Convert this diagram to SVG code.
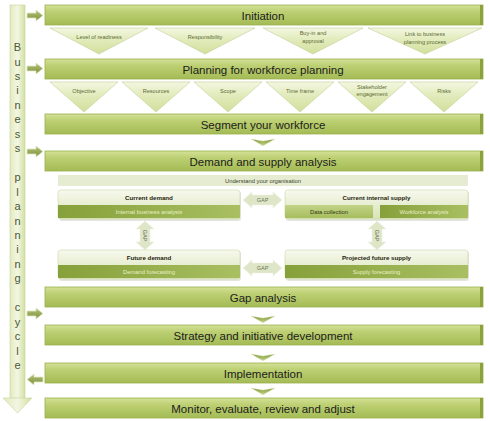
<svg xmlns="http://www.w3.org/2000/svg" width="490" height="421" viewBox="0 0 490 421">
<defs>
<linearGradient id="gBar" x1="0" y1="0" x2="0" y2="1">
<stop offset="0" stop-color="#d3e196"/>
<stop offset="0.35" stop-color="#bccf72"/>
<stop offset="1" stop-color="#a4bb55"/>
</linearGradient>
<linearGradient id="gChev" x1="0" y1="0" x2="0" y2="1">
<stop offset="0" stop-color="#f3f7e2"/>
<stop offset="0.4" stop-color="#e3ecbf"/>
<stop offset="1" stop-color="#d2df9a"/>
</linearGradient>
<linearGradient id="gBig" x1="0" y1="0" x2="1" y2="0">
<stop offset="0" stop-color="#e2eabf"/>
<stop offset="0.5" stop-color="#f2f6e2"/>
<stop offset="1" stop-color="#d3df9f"/>
</linearGradient>
<linearGradient id="gHead" x1="0" y1="0" x2="0" y2="1">
<stop offset="0" stop-color="#f7f9ee"/>
<stop offset="1" stop-color="#d9e3b6"/>
</linearGradient>
<linearGradient id="gBand" x1="0" y1="0" x2="1" y2="0">
<stop offset="0" stop-color="#86a03a"/>
<stop offset="1" stop-color="#a9bf62"/>
</linearGradient>
<linearGradient id="gBandL" x1="0" y1="0" x2="0" y2="1">
<stop offset="0" stop-color="#c2d487"/>
<stop offset="1" stop-color="#a7bd5e"/>
</linearGradient>
<linearGradient id="gDown" x1="0" y1="0" x2="0" y2="1">
<stop offset="0" stop-color="#7f9638"/>
<stop offset="1" stop-color="#c9d98c"/>
</linearGradient>
<linearGradient id="gSide" x1="0" y1="0" x2="0" y2="1">
<stop offset="0" stop-color="#b4c47a"/>
<stop offset="1" stop-color="#7c8f3c"/>
</linearGradient>
</defs>
<style>
.bar{fill:url(#gBar);stroke:#9bb04e;stroke-width:0.8}
.edge{fill:#8aa13e}
.bt{font-family:"Liberation Sans",Arial,sans-serif;font-size:11.5px;fill:#1c1c1c;text-anchor:middle}
.chev{fill:url(#gChev);stroke:#c3cf96;stroke-width:0.6}
.ct{font-family:"Liberation Sans",Arial,sans-serif;font-size:5.6px;fill:#5c6a34;text-anchor:middle}
.vt{font-family:"Liberation Sans",Arial,sans-serif;font-size:11px;fill:#4b5635;text-anchor:middle}
.side{fill:url(#gSide);stroke:#dfe8c2;stroke-width:0.8}
.down{fill:url(#gDown);stroke:#e6eecc;stroke-width:0.5}
.gap{fill:#dfe6c8;stroke:#eef2e0;stroke-width:0.5}
.gt{font-family:"Liberation Sans",Arial,sans-serif;font-size:5.5px;fill:#6b7357;text-anchor:middle}
.head{fill:url(#gHead);stroke:#cbd6a8;stroke-width:0.6}
.ht{font-family:"Liberation Sans",Arial,sans-serif;font-size:6.2px;font-weight:bold;fill:#1f2410;text-anchor:middle}
.band{fill:url(#gBand)}
.bandl{fill:url(#gBandL)}
.lt{font-family:"Liberation Sans",Arial,sans-serif;font-size:5.8px;fill:#e9f0c6;text-anchor:middle}
.dt{font-family:"Liberation Sans",Arial,sans-serif;font-size:5.8px;fill:#2d3812;text-anchor:middle}
.shadow{fill:#c9ccc0;opacity:0.5}
</style>
<rect x="0" y="0" width="490" height="421" fill="#ffffff"/>

<g id="cycle">
<rect x="10" y="5" width="15" height="394" fill="url(#gBig)" stroke="#c6d39b" stroke-width="0.6"/>
<polygon points="3,398 32,398 17.5,413" fill="url(#gBig)" stroke="#c6d39b" stroke-width="0.6"/>
<text class="vt" x="17.5" y="51">B</text>
<text class="vt" x="17.5" y="65.5">u</text>
<text class="vt" x="17.5" y="80">s</text>
<text class="vt" x="17.5" y="94">i</text>
<text class="vt" x="17.5" y="109">n</text>
<text class="vt" x="17.5" y="123">e</text>
<text class="vt" x="17.5" y="138">s</text>
<text class="vt" x="17.5" y="152">s</text>
<text class="vt" x="17.5" y="181">p</text>
<text class="vt" x="17.5" y="196">l</text>
<text class="vt" x="17.5" y="210">a</text>
<text class="vt" x="17.5" y="225">n</text>
<text class="vt" x="17.5" y="239">n</text>
<text class="vt" x="17.5" y="253">i</text>
<text class="vt" x="17.5" y="268">n</text>
<text class="vt" x="17.5" y="282">g</text>
<text class="vt" x="17.5" y="311">c</text>
<text class="vt" x="17.5" y="326">y</text>
<text class="vt" x="17.5" y="340">c</text>
<text class="vt" x="17.5" y="355">l</text>
<text class="vt" x="17.5" y="369">e</text>
</g>

<g id="connectors">
<polygon class="side" points="27,13 36,13 36,10 43,15.5 36,21 36,18 27,18"/>
<polygon class="side" points="27,66 36,66 36,63 43,68.5 36,74 36,71 27,71"/>
<polygon class="side" points="27,149 36,149 36,146 43,151.5 36,157 36,154 27,154"/>
<polygon class="side" points="27,311 36,311 36,308 43,313.5 36,319 36,316 27,316"/>
<polygon class="side" points="43,377 34,377 34,374 27,379.5 34,385 34,382 43,382"/>
<polygon class="down" points="251,139 263,141 275,139 263,146"/>
<polygon class="down" points="251,316 263,318 275,316 263,323"/>
<polygon class="down" points="251,354 263,356 275,354 263,361"/>
<polygon class="down" points="251,388 263,390 275,388 263,395"/>
<g id="gap-top">
<polygon class="gap" points="243,200 252,192 252,195 273,195 273,192 282,200 273,208 273,205 252,205 252,208"/>
<text class="gt" x="262.5" y="202">GAP</text>
</g>
<g id="gap-bottom">
<polygon class="gap" points="243,268 252,260 252,263 273,263 273,260 282,268 273,276 273,273 252,273 252,276"/>
<text class="gt" x="262.5" y="270">GAP</text>
</g>
<g id="gap-left">
<polygon class="gap" points="145,221 154,229 150,229 150,242 154,242 145,250 136,242 140,242 140,229 136,229"/>
<text class="gt" transform="translate(143,235.5) rotate(90)" x="0" y="0">GAP</text>
</g>
<g id="gap-right">
<polygon class="gap" points="377,221 386,229 382,229 382,242 386,242 377,250 368,242 372,242 372,229 368,229"/>
<text class="gt" transform="translate(375,235.5) rotate(90)" x="0" y="0">GAP</text>
</g>
</g>

<g id="initiation">
<rect class="bar" x="45" y="5" width="438" height="20"/>
<rect class="edge" x="480" y="5" width="3" height="20"/>
<text class="bt" x="263" y="19.5">Initiation</text>
</g>
<g id="initiation-items">
<polygon class="chev" points="50,28 148,28 99,54"/>
<text class="ct" x="99" y="39">Level of readiness</text>
<polygon class="chev" points="155,28 255,28 205,54"/>
<text class="ct" x="205" y="39">Responsibility</text>
<polygon class="chev" points="263,28 363,28 313,54"/>
<text class="ct" x="313" y="35">Buy-in and</text>
<text class="ct" x="313" y="43">approval</text>
<polygon class="chev" points="368,28 482,28 425,54"/>
<text class="ct" x="425" y="36">Link to business</text>
<text class="ct" x="425" y="44">planning process</text>
</g>

<g id="planning">
<rect class="bar" x="45" y="59" width="438" height="20"/>
<rect class="edge" x="480" y="59" width="3" height="20"/>
<text class="bt" x="263" y="73.5">Planning for workforce planning</text>
</g>
<g id="planning-items">
<polygon class="chev" points="50,82 118,82 84,112"/>
<text class="ct" x="84" y="93">Objective</text>
<polygon class="chev" points="122,82 190,82 156,112"/>
<text class="ct" x="156" y="93">Resources</text>
<polygon class="chev" points="194,82 262,82 228,112"/>
<text class="ct" x="228" y="93">Scope</text>
<polygon class="chev" points="266,82 334,82 300,112"/>
<text class="ct" x="300" y="93">Time frame</text>
<polygon class="chev" points="338,82 406,82 372,112"/>
<text class="ct" x="372" y="89">Stakeholder</text>
<text class="ct" x="372" y="96">engagement</text>
<polygon class="chev" points="410,82 478,82 444,112"/>
<text class="ct" x="444" y="93">Risks</text>
</g>

<g id="segment">
<rect class="bar" x="45" y="114" width="438" height="20"/>
<rect class="edge" x="480" y="114" width="3" height="20"/>
<text class="bt" x="263" y="128.5">Segment your workforce</text>
</g>

<g id="demand-supply">
<rect class="bar" x="45" y="151" width="438" height="20"/>
<rect class="edge" x="480" y="151" width="3" height="20"/>
<text class="bt" x="263" y="165.5">Demand and supply analysis</text>
</g>

<g id="understand">
<rect x="58" y="175" width="410" height="11" fill="#e6ecd2"/>
<text class="dt" x="263" y="182.5" style="fill:#3a3f2c">Understand your organisation</text>
</g>

<g id="current-demand">
<rect class="shadow" x="59" y="191" width="182" height="30" rx="3"/>
<rect class="head" x="58" y="190" width="182" height="29" rx="3"/>
<rect class="band" x="58" y="205" width="182" height="13"/>
<text class="ht" x="149" y="200">Current demand</text>
<text class="lt" x="149" y="213.5">Internal business   analysis</text>
</g>

<g id="current-supply">
<rect class="shadow" x="286" y="191" width="183" height="30" rx="3"/>
<rect class="head" x="285" y="190" width="183" height="29" rx="3"/>
<rect class="bandl" x="285" y="205" width="88" height="13"/>
<rect class="band" x="380" y="205" width="88" height="13"/>
<text class="ht" x="376.5" y="200">Current internal supply</text>
<text class="dt" x="329" y="213.5">Data collection</text>
<text class="lt" x="424" y="213.5">Workforce analysis</text>
</g>

<g id="future-demand">
<rect class="shadow" x="59" y="251" width="182" height="30" rx="3"/>
<rect class="head" x="58" y="250" width="182" height="29" rx="3"/>
<rect class="band" x="58" y="265" width="182" height="13"/>
<text class="ht" x="149" y="260">Future demand</text>
<text class="lt" x="149" y="273.5">Demand forecasting</text>
</g>

<g id="future-supply">
<rect class="shadow" x="286" y="251" width="183" height="30" rx="3"/>
<rect class="head" x="285" y="250" width="183" height="29" rx="3"/>
<rect class="band" x="285" y="265" width="183" height="13"/>
<text class="ht" x="376.5" y="260">Projected future supply</text>
<text class="lt" x="376.5" y="273.5">Supply forecasting</text>
</g>

<g id="gap-analysis">
<rect class="bar" x="45" y="287" width="438" height="20"/>
<rect class="edge" x="480" y="287" width="3" height="20"/>
<text class="bt" x="263" y="301.5">Gap analysis</text>
</g>

<g id="strategy">
<rect class="bar" x="45" y="325" width="438" height="20"/>
<rect class="edge" x="480" y="325" width="3" height="20"/>
<text class="bt" x="263" y="339.5">Strategy and initiative development</text>
</g>

<g id="implementation">
<rect class="bar" x="45" y="363" width="438" height="20"/>
<rect class="edge" x="480" y="363" width="3" height="20"/>
<text class="bt" x="263" y="377.5">Implementation</text>
</g>

<g id="monitor">
<rect class="bar" x="45" y="398" width="438" height="20"/>
<rect class="edge" x="480" y="398" width="3" height="20"/>
<text class="bt" x="263" y="412.5">Monitor, evaluate, review and adjust</text>
</g>
</svg>
